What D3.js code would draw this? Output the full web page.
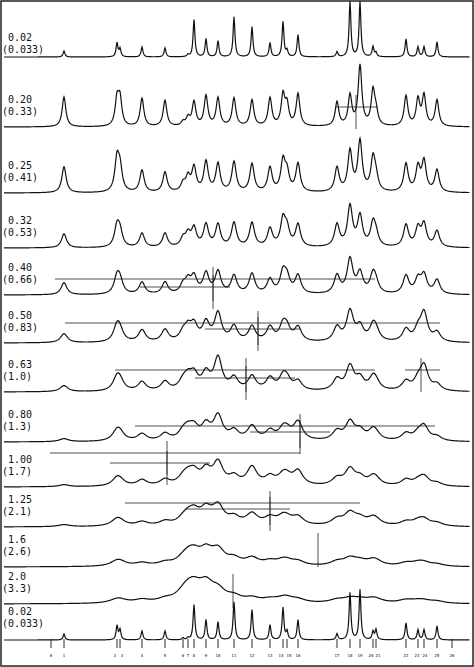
<!DOCTYPE html>
<html><head><meta charset="utf-8">
<script src="https://cdn.jsdelivr.net/npm/d3@7"></script>
<style>body{margin:0;background:#fff}</style></head>
<body><svg id="chart" width="474" height="667"></svg>
<script>
// peak numbers and positions (chart units along the shift axis)
const peakIds = [0,1,2,3,4,5,6,7,8,9,10,11,12,13,14,15,16,17,18,19,20,21,22,23,24,25,26];
const peakPos = [51,64,117,120,142,165,183,188,194,206,218,234,252,270,283,287,298,337,350,360,373,376,406,418,424,437,452];
const concLabels = ["0.02","0.20","0.25","0.32","0.40","0.50","0.63","0.80","1.00","1.25","1.6","2.0","0.02"];
const molLabels = ["(0.033)","(0.33)","(0.41)","(0.53)","(0.66)","(0.83)","(1.0)","(1.3)","(1.7)","(2.1)","(2.6)","(3.3)","(0.033)"];
const baselines = [57,127,193,248,295,343,392,442,487,527,567,604,640];
const widths = [1.1,2.2,2.6,3,3.5,4.2,4.8,5.5,6,7,8,9,1.1];
// peak heights per trace, one row per concentration
const heights = [
 [0,6,14,8,10,9,0,2,37,18,16,40,30,14,35,6,22,5,55,55,10,4,18,10,10,15,0],
 [0,30,26,26,28,26,4,8,24,30,28,28,26,28,30,20,32,24,30,60,34,12,30,26,30,26,0],
 [0,26,32,22,22,20,8,14,24,30,28,30,28,24,30,18,28,24,40,50,32,12,28,24,30,22,0],
 [0,14,20,14,14,14,8,12,18,22,22,24,24,18,26,16,22,22,40,30,22,10,22,18,22,16,0],
 [0,12,16,12,12,12,8,12,16,20,22,18,20,14,20,14,18,18,34,20,18,8,18,14,18,14,0],
 [0,9,15,9,12,12,8,12,15,18,28,15,15,14,15,11,14,14,30,14,14,8,12,11,28,9,0],
 [0,6,12,8,9,9,8,11,14,16,32,12,14,12,12,9,9,11,24,11,11,6,9,9,24,6,0],
 [0,3,9,6,7,7,7,9,11,14,24,9,14,9,9,7,18,9,18,9,9,4,7,6,14,4,0],
 [0,2,7,4,6,6,6,8,11,14,22,8,18,8,8,6,14,7,16,7,7,4,6,4,9,3,0],
 [0,2,6,3,4,4,4,7,11,14,18,7,11,7,7,4,8,6,12,6,6,3,4,4,6,3,0],
 [0,0,4,3,3,3,4,7,10,13,14,6,7,4,4,3,4,4,7,4,4,3,3,3,3,2,0],
 [0,0,3,2,3,3,5,8,12,16,10,5,4,3,3,3,3,3,4,3,3,2,3,2,2,2,0],
 [0,6,14,10,9,9,2,2,35,20,18,38,30,15,32,8,20,6,47,50,8,10,17,10,10,14,0]
];
// shift lines: trace index, x1, x2, offset above baseline, vertical marker x
const shiftLines = [
 [1,336,378,-6,356],[4,55,375,-2,213],[4,140,230,6,213],[5,65,440,-6,258],[5,205,300,0,258],
 [6,115,375,-8,246],[6,195,295,0,246],[6,405,440,-8,421],[7,135,435,-2,300],[7,250,330,4,300],
 [8,50,300,-20,167],[8,110,210,-10,167],[9,125,360,-10,270],[9,185,290,-4,270],[10,318,318,-8,318],[11,233,233,-4,233]
];

const svg = d3.select("#chart");
const x = d3.scaleLinear().domain([0, 474]).range([0, 474]);
const y = d3.scaleLinear().domain([0, 60]).range([0, -60]);
const ff = "DejaVu Sans Mono, monospace";

svg.append("rect").attr("x",1).attr("y",1).attr("width",472).attr("height",665)
  .attr("fill","none").attr("stroke","#222").attr("stroke-width",1.5);

const xs = d3.range(4, 470, 0.5);
const line = d3.line().x(d => x(d[0])).y(d => d[1]);

heights.forEach((row, t) => {
  const w = widths[t];
  const pts = xs.map(px => {
    let v = 0;
    row.forEach((h, k) => { const u = (px - peakPos[k]) / w; v += h / (1 + u * u); });
    return [px, baselines[t] + y(v)];
  });
  svg.append("path").attr("d", line(pts)).attr("fill","none")
    .attr("stroke","#111").attr("stroke-width",1.2);
  const g = svg.append("g").attr("font-family", ff).attr("font-size", 10).attr("fill","#111");
  const ly = t === 12 ? baselines[t] - 25 : baselines[t] - (t === 0 ? 16 : 24);
  g.append("text").attr("x", 8).attr("y", ly).text(concLabels[t]);
  g.append("text").attr("x", 2).attr("y", ly + 12).text(molLabels[t]);
});

shiftLines.forEach(([t, x1, x2, off, vx]) => {
  const yy = baselines[t] - 14 + off;
  svg.append("line").attr("x1", x(x1)).attr("x2", x(x2)).attr("y1", yy).attr("y2", yy)
    .attr("stroke","#222").attr("stroke-width",0.8);
  svg.append("line").attr("x1", x(vx)).attr("x2", x(vx)).attr("y1", yy - 12).attr("y2", yy + 22)
    .attr("stroke","#222").attr("stroke-width",0.8);
});

// bottom peak markers
const nudge = {2:-2,3:2,14:-2,15:2,20:-2,21:2,23:-1,24:1};
const ax = svg.append("g");
peakIds.forEach((id, k) => {
  ax.append("line").attr("x1", x(peakPos[k])).attr("x2", x(peakPos[k]))
    .attr("y1", 639).attr("y2", 648).attr("stroke","#111").attr("stroke-width",0.9);
  ax.append("text").attr("x", x(peakPos[k]) + (nudge[id] || 0)).attr("y", 657)
    .attr("text-anchor","middle").attr("font-family", ff).attr("font-size", 4).text(id);
});
</script></body></html>
